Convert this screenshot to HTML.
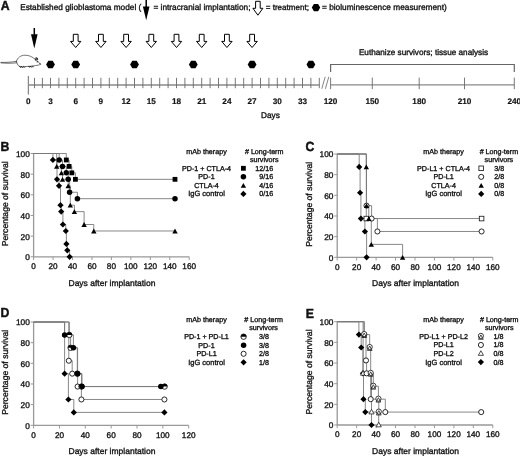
<!DOCTYPE html>
<html><head><meta charset="utf-8"><title>Figure</title>
<style>html,body{margin:0;padding:0;background:#fff;}svg{display:block;}
text{font-family:"Liberation Sans", Arial, Helvetica, sans-serif;fill:#111;stroke:#111;stroke-width:0.33px;text-rendering:geometricPrecision;}</style></head>
<body><svg width="520" height="457" viewBox="0 0 520 457">
<rect width="520" height="457" fill="#fff"/>
<text transform="translate(0.8 9.9) scale(0.93 1)" font-size="13.2" font-weight="bold" style="stroke-width:0.45px">A</text>
<text x="20.2" y="9.9" font-size="8.25">Established glioblastoma model (</text>
<path d="M146.2 0 V7.1" stroke="#000" stroke-width="1.5"/>
<path d="M142.9 6.6 L149.5 6.6 L146.2 20.2 Z" fill="#000"/>
<text x="153.4" y="9.9" font-size="8.3">= intracranial implantation;</text>
<path d="M255.6 1.3 H260.2 V8.3 H262.9 L257.9 15.2 L252.9 8.3 H255.6 Z" fill="#fff" stroke="#000" stroke-width="1.0" stroke-linejoin="miter"/>
<text x="265.7" y="9.9" font-size="8.1">= treatment;</text>
<path d="M311.8 7.6 L313.9 3.9 L318.1 3.9 L320.2 7.6 L318.1 11.3 L313.9 11.3 Z" fill="#000"/>
<text x="322" y="9.9" font-size="8.3">= bioluminescence measurement)</text>
<path d="M28.4 85 H319.3" stroke="#8a8a8a" stroke-width="1.3"/>
<path d="M28.4 75.9 V94.6" stroke="#8a8a8a" stroke-width="1.3"/>
<path d="M34.5 77.8 V88.2" stroke="#6a6a6a" stroke-width="0.9"/>
<path d="M42.4 77.8 V88.2" stroke="#6a6a6a" stroke-width="0.9"/>
<path d="M50.5 77.8 V88.2" stroke="#6a6a6a" stroke-width="0.9"/>
<path d="M58.9 77.8 V88.2" stroke="#6a6a6a" stroke-width="0.9"/>
<path d="M67.3 77.8 V88.2" stroke="#6a6a6a" stroke-width="0.9"/>
<path d="M75.7 77.8 V88.2" stroke="#6a6a6a" stroke-width="0.9"/>
<path d="M84.1 77.8 V88.2" stroke="#6a6a6a" stroke-width="0.9"/>
<path d="M92.5 77.8 V88.2" stroke="#6a6a6a" stroke-width="0.9"/>
<path d="M100.9 77.8 V88.2" stroke="#6a6a6a" stroke-width="0.9"/>
<path d="M109.3 77.8 V88.2" stroke="#6a6a6a" stroke-width="0.9"/>
<path d="M117.7 77.8 V88.2" stroke="#6a6a6a" stroke-width="0.9"/>
<path d="M126.1 77.8 V88.2" stroke="#6a6a6a" stroke-width="0.9"/>
<path d="M134.5 77.8 V88.2" stroke="#6a6a6a" stroke-width="0.9"/>
<path d="M142.9 77.8 V88.2" stroke="#6a6a6a" stroke-width="0.9"/>
<path d="M151.3 77.8 V88.2" stroke="#6a6a6a" stroke-width="0.9"/>
<path d="M159.7 77.8 V88.2" stroke="#6a6a6a" stroke-width="0.9"/>
<path d="M168.1 77.8 V88.2" stroke="#6a6a6a" stroke-width="0.9"/>
<path d="M176.5 77.8 V88.2" stroke="#6a6a6a" stroke-width="0.9"/>
<path d="M184.9 77.8 V88.2" stroke="#6a6a6a" stroke-width="0.9"/>
<path d="M193.3 77.8 V88.2" stroke="#6a6a6a" stroke-width="0.9"/>
<path d="M201.7 77.8 V88.2" stroke="#6a6a6a" stroke-width="0.9"/>
<path d="M210.1 77.8 V88.2" stroke="#6a6a6a" stroke-width="0.9"/>
<path d="M218.5 77.8 V88.2" stroke="#6a6a6a" stroke-width="0.9"/>
<path d="M226.9 77.8 V88.2" stroke="#6a6a6a" stroke-width="0.9"/>
<path d="M235.3 77.8 V88.2" stroke="#6a6a6a" stroke-width="0.9"/>
<path d="M243.7 77.8 V88.2" stroke="#6a6a6a" stroke-width="0.9"/>
<path d="M252.1 77.8 V88.2" stroke="#6a6a6a" stroke-width="0.9"/>
<path d="M260.5 77.8 V88.2" stroke="#6a6a6a" stroke-width="0.9"/>
<path d="M268.9 77.8 V88.2" stroke="#6a6a6a" stroke-width="0.9"/>
<path d="M277.3 77.8 V88.2" stroke="#6a6a6a" stroke-width="0.9"/>
<path d="M285.7 77.8 V88.2" stroke="#6a6a6a" stroke-width="0.9"/>
<path d="M294.1 77.8 V88.2" stroke="#6a6a6a" stroke-width="0.9"/>
<path d="M302.5 77.8 V88.2" stroke="#6a6a6a" stroke-width="0.9"/>
<path d="M310.9 77.8 V88.2" stroke="#6a6a6a" stroke-width="0.9"/>
<path d="M319.3 77.8 V88.2" stroke="#6a6a6a" stroke-width="0.9"/>
<text x="28.4" y="104.3" font-size="8.2" font-weight="bold" style="stroke-width:0.15px" text-anchor="middle">0</text>
<text x="50.5" y="104.3" font-size="8.2" font-weight="bold" style="stroke-width:0.15px" text-anchor="middle">3</text>
<text x="75.7" y="104.3" font-size="8.2" font-weight="bold" style="stroke-width:0.15px" text-anchor="middle">6</text>
<text x="100.9" y="104.3" font-size="8.2" font-weight="bold" style="stroke-width:0.15px" text-anchor="middle">9</text>
<text x="126.1" y="104.3" font-size="8.2" font-weight="bold" style="stroke-width:0.15px" text-anchor="middle">12</text>
<text x="151.3" y="104.3" font-size="8.2" font-weight="bold" style="stroke-width:0.15px" text-anchor="middle">15</text>
<text x="176.5" y="104.3" font-size="8.2" font-weight="bold" style="stroke-width:0.15px" text-anchor="middle">18</text>
<text x="201.7" y="104.3" font-size="8.2" font-weight="bold" style="stroke-width:0.15px" text-anchor="middle">21</text>
<text x="226.9" y="104.3" font-size="8.2" font-weight="bold" style="stroke-width:0.15px" text-anchor="middle">24</text>
<text x="252.1" y="104.3" font-size="8.2" font-weight="bold" style="stroke-width:0.15px" text-anchor="middle">27</text>
<text x="277.3" y="104.3" font-size="8.2" font-weight="bold" style="stroke-width:0.15px" text-anchor="middle">30</text>
<text x="302.5" y="104.3" font-size="8.2" font-weight="bold" style="stroke-width:0.15px" text-anchor="middle">33</text>
<path d="M321.8 88.8 L325.2 76.8 M325.4 88.8 L328.8 76.8" stroke="#777" stroke-width="0.9"/>
<path d="M330.6 84.9 H514.3" stroke="#8a8a8a" stroke-width="1.3"/>
<path d="M330.6 77.6 V89.2" stroke="#6a6a6a" stroke-width="0.9"/>
<text x="330.6" y="104.3" font-size="8.2" font-weight="bold" style="stroke-width:0.15px" text-anchor="middle">120</text>
<path d="M372.3 77.6 V89.2" stroke="#6a6a6a" stroke-width="0.9"/>
<text x="372.3" y="104.3" font-size="8.2" font-weight="bold" style="stroke-width:0.15px" text-anchor="middle">150</text>
<path d="M419.2 77.6 V89.2" stroke="#6a6a6a" stroke-width="0.9"/>
<text x="419.2" y="104.3" font-size="8.2" font-weight="bold" style="stroke-width:0.15px" text-anchor="middle">180</text>
<path d="M464.5 77.6 V89.2" stroke="#6a6a6a" stroke-width="0.9"/>
<text x="464.5" y="104.3" font-size="8.2" font-weight="bold" style="stroke-width:0.15px" text-anchor="middle">210</text>
<path d="M514.3 77.6 V89.2" stroke="#6a6a6a" stroke-width="0.9"/>
<text x="514.3" y="104.3" font-size="8.2" font-weight="bold" style="stroke-width:0.15px" text-anchor="middle">240</text>
<path d="M330.6 72.0 V64.5 H514.3 V72.0" fill="none" stroke="#666" stroke-width="1.2"/>
<text x="358.9" y="54.8" font-size="8.2">Euthanize survivors; tissue analysis</text>
<text x="260.9" y="117.7" font-size="8.3">Days</text>
<path d="M34.3 28 V34.8" stroke="#000" stroke-width="1.5"/>
<path d="M31 34.3 L37.6 34.3 L34.3 48.4 Z" fill="#000"/>
<path d="M73.3 34.3 H78.1 V41.4 H80.9 L75.7 47.5 L70.5 41.4 H73.3 Z" fill="#fff" stroke="#000" stroke-width="1.0" stroke-linejoin="miter"/>
<path d="M98.5 34.3 H103.3 V41.4 H106.1 L100.9 47.5 L95.7 41.4 H98.5 Z" fill="#fff" stroke="#000" stroke-width="1.0" stroke-linejoin="miter"/>
<path d="M123.7 34.3 H128.5 V41.4 H131.3 L126.1 47.5 L120.9 41.4 H123.7 Z" fill="#fff" stroke="#000" stroke-width="1.0" stroke-linejoin="miter"/>
<path d="M148.9 34.3 H153.7 V41.4 H156.5 L151.3 47.5 L146.1 41.4 H148.9 Z" fill="#fff" stroke="#000" stroke-width="1.0" stroke-linejoin="miter"/>
<path d="M174.1 34.3 H178.9 V41.4 H181.7 L176.5 47.5 L171.3 41.4 H174.1 Z" fill="#fff" stroke="#000" stroke-width="1.0" stroke-linejoin="miter"/>
<path d="M199.3 34.3 H204.1 V41.4 H206.9 L201.7 47.5 L196.5 41.4 H199.3 Z" fill="#fff" stroke="#000" stroke-width="1.0" stroke-linejoin="miter"/>
<path d="M224.5 34.3 H229.3 V41.4 H232.1 L226.9 47.5 L221.7 41.4 H224.5 Z" fill="#fff" stroke="#000" stroke-width="1.0" stroke-linejoin="miter"/>
<path d="M249.7 34.3 H254.5 V41.4 H257.3 L252.1 47.5 L246.9 41.4 H249.7 Z" fill="#fff" stroke="#000" stroke-width="1.0" stroke-linejoin="miter"/>
<path d="M46.1 64.5 L48.3 60.8 L52.7 60.8 L54.9 64.5 L52.7 68.2 L48.3 68.2 Z" fill="#000"/>
<path d="M71.3 64.5 L73.5 60.8 L77.9 60.8 L80.1 64.5 L77.9 68.2 L73.5 68.2 Z" fill="#000"/>
<path d="M130.1 64.5 L132.3 60.8 L136.7 60.8 L138.9 64.5 L136.7 68.2 L132.3 68.2 Z" fill="#000"/>
<path d="M188.9 64.5 L191.1 60.8 L195.5 60.8 L197.7 64.5 L195.5 68.2 L191.1 68.2 Z" fill="#000"/>
<path d="M247.7 64.5 L249.9 60.8 L254.3 60.8 L256.5 64.5 L254.3 68.2 L249.9 68.2 Z" fill="#000"/>
<path d="M306.5 64.5 L308.7 60.8 L313.1 60.8 L315.3 64.5 L313.1 68.2 L308.7 68.2 Z" fill="#000"/>
<g fill="none" stroke="#2a2a2a" stroke-width="0.65" stroke-linecap="round" stroke-linejoin="round"><path d="M0.9 62.4 C5 62.6 11 62.2 16.4 61.4"/><path d="M1.0 62.9 C6 63.4 12 63.4 16.8 62.8"/><path d="M16.4 61.2 C17.5 57.6 21 55.2 25 55.2 C29 55.2 32.6 56.8 35.2 59.4"/><path d="M35.2 59.4 C37.2 60.6 39.2 62.4 40.6 64.2 C39.4 65 37.5 65.3 35.4 65.6 C32 66.2 28 66.4 25.5 66.6"/><path d="M16.4 61.2 C16.8 63.2 17.6 65 19.2 66.4 C21.5 67.4 23.5 67.0 25.5 66.6"/><path d="M35.0 58.2 C35.6 57.2 37.2 57.4 37.6 58.6 C37.4 59.8 36.2 60.2 35.4 59.6"/></g>
<circle cx="37.3" cy="61.8" r="0.7" fill="#222"/>
<path d="M19.4 65.8 l1.2 1.6 l1 -1.2 l1 1.3 l1.1 -1.1 l1 0.9 M28.4 65.9 l1.2 1.4 l1 -1.2 l1.1 1.2 l1 -1.0 l0.8 0.6 M39.6 63.6 l1 0.6" fill="none" stroke="#1a1a1a" stroke-width="1.0"/>
<path d="M35.6 60.6 l0.5 -2.6 l1.4 0.4 l0.2 1.6" fill="none" stroke="#1a1a1a" stroke-width="0.9"/>
<text transform="translate(0.6 150.8) scale(0.93 1)" font-size="13.2" font-weight="bold" style="stroke-width:0.45px">B</text>
<path d="M33.6 153.5 V256.8 H189.2" fill="none" stroke="#999999" stroke-width="1.3"/>
<path d="M30.6 256.8 H33.6" stroke="#999999" stroke-width="1"/>
<text x="29.8" y="260.2" font-size="8.3" text-anchor="end">0</text>
<path d="M30.6 236.14 H33.6" stroke="#999999" stroke-width="1"/>
<text x="29.8" y="239.54" font-size="8.3" text-anchor="end">20</text>
<path d="M30.6 215.48 H33.6" stroke="#999999" stroke-width="1"/>
<text x="29.8" y="218.88" font-size="8.3" text-anchor="end">40</text>
<path d="M30.6 194.82 H33.6" stroke="#999999" stroke-width="1"/>
<text x="29.8" y="198.22" font-size="8.3" text-anchor="end">60</text>
<path d="M30.6 174.16 H33.6" stroke="#999999" stroke-width="1"/>
<text x="29.8" y="177.56" font-size="8.3" text-anchor="end">80</text>
<path d="M30.6 153.5 H33.6" stroke="#999999" stroke-width="1"/>
<text x="29.8" y="156.9" font-size="8.3" text-anchor="end">100</text>
<path d="M33.6 256.8 V260" stroke="#999999" stroke-width="1"/>
<text x="33.6" y="269.1" font-size="8.2" text-anchor="middle">0</text>
<path d="M53.05 256.8 V260" stroke="#999999" stroke-width="1"/>
<text x="53.05" y="269.1" font-size="8.2" text-anchor="middle">20</text>
<path d="M72.5 256.8 V260" stroke="#999999" stroke-width="1"/>
<text x="72.5" y="269.1" font-size="8.2" text-anchor="middle">40</text>
<path d="M91.95 256.8 V260" stroke="#999999" stroke-width="1"/>
<text x="91.95" y="269.1" font-size="8.2" text-anchor="middle">60</text>
<path d="M111.4 256.8 V260" stroke="#999999" stroke-width="1"/>
<text x="111.4" y="269.1" font-size="8.2" text-anchor="middle">80</text>
<path d="M130.85 256.8 V260" stroke="#999999" stroke-width="1"/>
<text x="130.85" y="269.1" font-size="8.2" text-anchor="middle">100</text>
<path d="M150.3 256.8 V260" stroke="#999999" stroke-width="1"/>
<text x="150.3" y="269.1" font-size="8.2" text-anchor="middle">120</text>
<path d="M169.75 256.8 V260" stroke="#999999" stroke-width="1"/>
<text x="169.75" y="269.1" font-size="8.2" text-anchor="middle">140</text>
<path d="M189.2 256.8 V260" stroke="#999999" stroke-width="1"/>
<text x="189.2" y="269.1" font-size="8.2" text-anchor="middle">160</text>
<text x="68.5" y="285.8" font-size="8.5">Days after implantation</text>
<text transform="translate(8.3 203.75) rotate(-90)" font-size="8.6" text-anchor="middle">Percentage of survival</text>
<path d="M33.6 153.5 H66.3 V159.96 H69.1 V166.41 H71.8 V172.87 H75.4 V179.33 H175" fill="none" stroke="#7a7a7a" stroke-width="0.9"/>
<path d="M33.6 153.5 H59.2 V159.96 H62.5 V166.41 H66.3 V172.87 H68.2 V179.33 H69.6 V192.24 H77.4 V198.69 H175" fill="none" stroke="#7a7a7a" stroke-width="0.9"/>
<path d="M33.6 153.5 H56.7 V166.41 H61.4 V172.87 H62.5 V179.33 H68.2 V185.78 H70.3 V205.15 H74.4 V211.61 H84.1 V224.52 H93.8 V230.98 H175" fill="none" stroke="#7a7a7a" stroke-width="0.9"/>
<path d="M33.6 153.5 H52.9 V159.96 H57 V179.33 H59 V185.78 H60.5 V205.15 H61.2 V211.61 H62.9 V224.52 H65.8 V230.98 H66.4 V243.89 H67.3 V250.34 H69.6 V256.8" fill="none" stroke="#7a7a7a" stroke-width="0.9"/>
<path d="M52.9 156.86 L56 159.96 L52.9 163.06 L49.8 159.96 Z" fill="#000"/>
<path d="M57 176.23 L60.1 179.33 L57 182.43 L53.9 179.33 Z" fill="#000"/>
<path d="M59 182.68 L62.1 185.78 L59 188.88 L55.9 185.78 Z" fill="#000"/>
<path d="M60.5 202.05 L63.6 205.15 L60.5 208.25 L57.4 205.15 Z" fill="#000"/>
<path d="M61.2 208.51 L64.3 211.61 L61.2 214.71 L58.1 211.61 Z" fill="#000"/>
<path d="M62.9 221.42 L66 224.52 L62.9 227.62 L59.8 224.52 Z" fill="#000"/>
<path d="M65.8 227.88 L68.9 230.98 L65.8 234.08 L62.7 230.98 Z" fill="#000"/>
<path d="M66.4 240.79 L69.5 243.89 L66.4 246.99 L63.3 243.89 Z" fill="#000"/>
<path d="M67.3 247.24 L70.4 250.34 L67.3 253.44 L64.2 250.34 Z" fill="#000"/>
<path d="M69.6 253.7 L72.7 256.8 L69.6 259.9 L66.5 256.8 Z" fill="#000"/>
<path d="M56.7 164.01 L59.4 168.81 L54 168.81 Z" fill="#000"/>
<path d="M61.4 170.47 L64.1 175.27 L58.7 175.27 Z" fill="#000"/>
<path d="M62.5 176.93 L65.2 181.73 L59.8 181.73 Z" fill="#000"/>
<path d="M68.2 183.38 L70.9 188.18 L65.5 188.18 Z" fill="#000"/>
<path d="M70.3 202.75 L73 207.55 L67.6 207.55 Z" fill="#000"/>
<path d="M74.4 209.21 L77.1 214.01 L71.7 214.01 Z" fill="#000"/>
<path d="M84.1 222.12 L86.8 226.92 L81.4 226.92 Z" fill="#000"/>
<path d="M93.8 228.58 L96.5 233.38 L91.1 233.38 Z" fill="#000"/>
<path d="M175 228.58 L177.7 233.38 L172.3 233.38 Z" fill="#000"/>
<circle cx="59.2" cy="159.96" r="2.75" fill="#000"/>
<circle cx="62.5" cy="166.41" r="2.75" fill="#000"/>
<circle cx="66.3" cy="172.87" r="2.75" fill="#000"/>
<circle cx="68.2" cy="179.33" r="2.75" fill="#000"/>
<circle cx="69.6" cy="192.24" r="2.75" fill="#000"/>
<circle cx="77.4" cy="198.69" r="2.75" fill="#000"/>
<circle cx="175" cy="198.69" r="2.75" fill="#000"/>
<rect x="63.9" y="157.56" width="4.8" height="4.8" fill="#000"/>
<rect x="66.7" y="164.01" width="4.8" height="4.8" fill="#000"/>
<rect x="69.4" y="170.47" width="4.8" height="4.8" fill="#000"/>
<rect x="73" y="176.93" width="4.8" height="4.8" fill="#000"/>
<rect x="172.6" y="176.93" width="4.8" height="4.8" fill="#000"/>
<text x="206.5" y="153.5" font-size="7.15" text-anchor="middle">mAb therapy</text>
<text x="264.2" y="153.5" font-size="7.15" text-anchor="middle"># Long-term</text>
<text x="264.2" y="161.6" font-size="7.15" text-anchor="middle">survivors</text>
<text x="206.5" y="170.8" font-size="7.15" text-anchor="middle">PD-1 + CTLA-4</text>
<rect x="241" y="165.9" width="4.8" height="4.8" fill="#000"/>
<text x="273.2" y="170.8" font-size="7.15" text-anchor="end">12/16</text>
<text x="206.5" y="179.35" font-size="7.15" text-anchor="middle">PD-1</text>
<circle cx="243.4" cy="176.85" r="2.75" fill="#000"/>
<text x="273.2" y="179.35" font-size="7.15" text-anchor="end">9/16</text>
<text x="206.5" y="187.9" font-size="7.15" text-anchor="middle">CTLA-4</text>
<path d="M243.4 183 L246.1 187.8 L240.7 187.8 Z" fill="#000"/>
<text x="273.2" y="187.9" font-size="7.15" text-anchor="end">4/16</text>
<text x="206.5" y="196.45" font-size="7.5" text-anchor="middle">IgG control</text>
<path d="M243.4 190.85 L246.5 193.95 L243.4 197.05 L240.3 193.95 Z" fill="#000"/>
<text x="273.2" y="196.45" font-size="7.15" text-anchor="end">0/16</text>
<text transform="translate(305.6 150.6) scale(0.93 1)" font-size="13.2" font-weight="bold" style="stroke-width:0.45px">C</text>
<path d="M337.2 154 V257.3 H492.8" fill="none" stroke="#999999" stroke-width="1.3"/>
<path d="M334.2 257.3 H337.2" stroke="#999999" stroke-width="1"/>
<text x="333.4" y="260.7" font-size="8.3" text-anchor="end">0</text>
<path d="M334.2 236.64 H337.2" stroke="#999999" stroke-width="1"/>
<text x="333.4" y="240.04" font-size="8.3" text-anchor="end">20</text>
<path d="M334.2 215.98 H337.2" stroke="#999999" stroke-width="1"/>
<text x="333.4" y="219.38" font-size="8.3" text-anchor="end">40</text>
<path d="M334.2 195.32 H337.2" stroke="#999999" stroke-width="1"/>
<text x="333.4" y="198.72" font-size="8.3" text-anchor="end">60</text>
<path d="M334.2 174.66 H337.2" stroke="#999999" stroke-width="1"/>
<text x="333.4" y="178.06" font-size="8.3" text-anchor="end">80</text>
<path d="M334.2 154 H337.2" stroke="#999999" stroke-width="1"/>
<text x="333.4" y="157.4" font-size="8.3" text-anchor="end">100</text>
<path d="M337.2 257.3 V260.5" stroke="#999999" stroke-width="1"/>
<text x="337.2" y="269.6" font-size="8.2" text-anchor="middle">0</text>
<path d="M356.65 257.3 V260.5" stroke="#999999" stroke-width="1"/>
<text x="356.65" y="269.6" font-size="8.2" text-anchor="middle">20</text>
<path d="M376.1 257.3 V260.5" stroke="#999999" stroke-width="1"/>
<text x="376.1" y="269.6" font-size="8.2" text-anchor="middle">40</text>
<path d="M395.55 257.3 V260.5" stroke="#999999" stroke-width="1"/>
<text x="395.55" y="269.6" font-size="8.2" text-anchor="middle">60</text>
<path d="M415 257.3 V260.5" stroke="#999999" stroke-width="1"/>
<text x="415" y="269.6" font-size="8.2" text-anchor="middle">80</text>
<path d="M434.45 257.3 V260.5" stroke="#999999" stroke-width="1"/>
<text x="434.45" y="269.6" font-size="8.2" text-anchor="middle">100</text>
<path d="M453.9 257.3 V260.5" stroke="#999999" stroke-width="1"/>
<text x="453.9" y="269.6" font-size="8.2" text-anchor="middle">120</text>
<path d="M473.35 257.3 V260.5" stroke="#999999" stroke-width="1"/>
<text x="473.35" y="269.6" font-size="8.2" text-anchor="middle">140</text>
<path d="M492.8 257.3 V260.5" stroke="#999999" stroke-width="1"/>
<text x="492.8" y="269.6" font-size="8.2" text-anchor="middle">160</text>
<text x="372.1" y="285.8" font-size="8.5">Days after implantation</text>
<text transform="translate(311.9 204.25) rotate(-90)" font-size="8.6" text-anchor="middle">Percentage of survival</text>
<path d="M337.2 154 H366.3 V218.56 H481.6" fill="none" stroke="#7a7a7a" stroke-width="0.9"/>
<path d="M337.2 154 H366.5 V205.65 H371.6 V218.56 H377.4 V231.48 H481.6" fill="none" stroke="#7a7a7a" stroke-width="0.9"/>
<path d="M337.2 154 H366.3 V166.91 H366.5 V205.65 H368.8 V218.56 H371.3 V244.39 H402.6 V257.3" fill="none" stroke="#7a7a7a" stroke-width="0.9"/>
<path d="M337.2 154 H359.2 V166.91 H360.1 V192.74 H360.9 V218.56 H364.9 V231.48 H366.6 V257.3" fill="none" stroke="#7a7a7a" stroke-width="0.9"/>
<path d="M359.2 163.81 L362.3 166.91 L359.2 170.01 L356.1 166.91 Z" fill="#000"/>
<path d="M360.1 189.64 L363.2 192.74 L360.1 195.84 L357 192.74 Z" fill="#000"/>
<path d="M360.9 215.46 L364 218.56 L360.9 221.66 L357.8 218.56 Z" fill="#000"/>
<path d="M364.9 228.38 L368 231.48 L364.9 234.58 L361.8 231.48 Z" fill="#000"/>
<path d="M366.6 254.2 L369.7 257.3 L366.6 260.4 L363.5 257.3 Z" fill="#000"/>
<rect x="364" y="216.26" width="4.6" height="4.6" fill="#fff" stroke="#111" stroke-width="0.8"/>
<rect x="479.3" y="216.26" width="4.6" height="4.6" fill="#fff" stroke="#111" stroke-width="0.8"/>
<circle cx="366.5" cy="205.65" r="2.55" fill="#fff" stroke="#111" stroke-width="0.9"/>
<circle cx="371.6" cy="218.56" r="2.55" fill="#fff" stroke="#111" stroke-width="0.9"/>
<circle cx="377.4" cy="231.48" r="2.55" fill="#fff" stroke="#111" stroke-width="0.9"/>
<circle cx="481.6" cy="231.48" r="2.55" fill="#fff" stroke="#111" stroke-width="0.9"/>
<path d="M366.3 164.51 L369 169.31 L363.6 169.31 Z" fill="#000"/>
<path d="M366.5 203.25 L369.2 208.05 L363.8 208.05 Z" fill="#000"/>
<path d="M368.8 216.16 L371.5 220.96 L366.1 220.96 Z" fill="#000"/>
<path d="M371.3 241.99 L374 246.79 L368.6 246.79 Z" fill="#000"/>
<path d="M402.6 254.9 L405.3 259.7 L399.9 259.7 Z" fill="#000"/>
<text x="443.6" y="153.5" font-size="7.15" text-anchor="middle">mAb therapy</text>
<text x="498.9" y="153.5" font-size="7.15" text-anchor="middle"># Long-term</text>
<text x="498.9" y="161.6" font-size="7.15" text-anchor="middle">survivors</text>
<text x="443.6" y="170.8" font-size="7.15" text-anchor="middle">PD-L1 + CTLA-4</text>
<rect x="478.9" y="166" width="4.6" height="4.6" fill="#fff" stroke="#111" stroke-width="0.8"/>
<text x="504.2" y="170.8" font-size="7.15" text-anchor="end">3/8</text>
<text x="443.6" y="179.35" font-size="7.15" text-anchor="middle">PD-L1</text>
<circle cx="481.2" cy="176.85" r="2.55" fill="#fff" stroke="#111" stroke-width="0.9"/>
<text x="504.2" y="179.35" font-size="7.15" text-anchor="end">2/8</text>
<text x="443.6" y="187.9" font-size="7.15" text-anchor="middle">CTLA-4</text>
<path d="M481.2 183 L483.9 187.8 L478.5 187.8 Z" fill="#000"/>
<text x="504.2" y="187.9" font-size="7.15" text-anchor="end">0/8</text>
<text x="443.6" y="196.45" font-size="7.5" text-anchor="middle">IgG control</text>
<path d="M481.2 190.85 L484.3 193.95 L481.2 197.05 L478.1 193.95 Z" fill="#000"/>
<text x="504.2" y="196.45" font-size="7.15" text-anchor="end">0/8</text>
<text transform="translate(0.6 317.2) scale(0.93 1)" font-size="13.2" font-weight="bold" style="stroke-width:0.45px">D</text>
<path d="M33.6 322 V425.3 H188.7" fill="none" stroke="#999999" stroke-width="1.3"/>
<path d="M30.6 425.3 H33.6" stroke="#999999" stroke-width="1"/>
<text x="29.8" y="428.7" font-size="8.3" text-anchor="end">0</text>
<path d="M30.6 404.64 H33.6" stroke="#999999" stroke-width="1"/>
<text x="29.8" y="408.04" font-size="8.3" text-anchor="end">20</text>
<path d="M30.6 383.98 H33.6" stroke="#999999" stroke-width="1"/>
<text x="29.8" y="387.38" font-size="8.3" text-anchor="end">40</text>
<path d="M30.6 363.32 H33.6" stroke="#999999" stroke-width="1"/>
<text x="29.8" y="366.72" font-size="8.3" text-anchor="end">60</text>
<path d="M30.6 342.66 H33.6" stroke="#999999" stroke-width="1"/>
<text x="29.8" y="346.06" font-size="8.3" text-anchor="end">80</text>
<path d="M30.6 322 H33.6" stroke="#999999" stroke-width="1"/>
<text x="29.8" y="325.4" font-size="8.3" text-anchor="end">100</text>
<path d="M33.6 425.3 V428.5" stroke="#999999" stroke-width="1"/>
<text x="33.6" y="437.6" font-size="8.2" text-anchor="middle">0</text>
<path d="M59.45 425.3 V428.5" stroke="#999999" stroke-width="1"/>
<text x="59.45" y="437.6" font-size="8.2" text-anchor="middle">20</text>
<path d="M85.3 425.3 V428.5" stroke="#999999" stroke-width="1"/>
<text x="85.3" y="437.6" font-size="8.2" text-anchor="middle">40</text>
<path d="M111.15 425.3 V428.5" stroke="#999999" stroke-width="1"/>
<text x="111.15" y="437.6" font-size="8.2" text-anchor="middle">60</text>
<path d="M137 425.3 V428.5" stroke="#999999" stroke-width="1"/>
<text x="137" y="437.6" font-size="8.2" text-anchor="middle">80</text>
<path d="M162.85 425.3 V428.5" stroke="#999999" stroke-width="1"/>
<text x="162.85" y="437.6" font-size="8.2" text-anchor="middle">100</text>
<path d="M188.7 425.3 V428.5" stroke="#999999" stroke-width="1"/>
<text x="188.7" y="437.6" font-size="8.2" text-anchor="middle">120</text>
<text x="68.5" y="454.4" font-size="8.5">Days after implantation</text>
<text transform="translate(8.3 372.25) rotate(-90)" font-size="8.6" text-anchor="middle">Percentage of survival</text>
<path d="M33.6 322 H64.6 V334.91 H73.4 V347.83 H77.6 V373.65 H82 V386.56 H160.8" fill="none" stroke="#7a7a7a" stroke-width="0.9"/>
<path d="M33.6 322 H69.3 V334.91 H70.6 V347.83 H77.3 V373.65 H81.5 V386.56 H164.6" fill="none" stroke="#7a7a7a" stroke-width="0.9"/>
<path d="M33.6 322 H68.8 V360.74 H72.2 V373.65 H77.6 V386.56 H81.4 V399.48 H164.4" fill="none" stroke="#7a7a7a" stroke-width="0.9"/>
<path d="M33.6 322 H64.6 V373.65 H68.4 V399.48 H73.8 V412.39 H164.4" fill="none" stroke="#7a7a7a" stroke-width="0.9"/>
<path d="M64.6 370.55 L67.7 373.65 L64.6 376.75 L61.5 373.65 Z" fill="#000"/>
<path d="M68.4 396.38 L71.5 399.48 L68.4 402.58 L65.3 399.48 Z" fill="#000"/>
<path d="M73.8 409.29 L76.9 412.39 L73.8 415.49 L70.7 412.39 Z" fill="#000"/>
<path d="M164.4 409.29 L167.5 412.39 L164.4 415.49 L161.3 412.39 Z" fill="#000"/>
<circle cx="68.8" cy="360.74" r="2.55" fill="#fff" stroke="#111" stroke-width="0.9"/>
<circle cx="72.2" cy="373.65" r="2.55" fill="#fff" stroke="#111" stroke-width="0.9"/>
<circle cx="77.6" cy="386.56" r="2.55" fill="#fff" stroke="#111" stroke-width="0.9"/>
<circle cx="81.4" cy="399.48" r="2.55" fill="#fff" stroke="#111" stroke-width="0.9"/>
<circle cx="164.4" cy="399.48" r="2.55" fill="#fff" stroke="#111" stroke-width="0.9"/>
<circle cx="69.3" cy="334.91" r="2.7" fill="#fff" stroke="#111" stroke-width="0.9"/>
<path d="M66.6 334.91 A2.7 2.7 0 0 1 72 334.91 Z" fill="#000"/>
<circle cx="70.6" cy="347.83" r="2.7" fill="#fff" stroke="#111" stroke-width="0.9"/>
<path d="M67.9 347.83 A2.7 2.7 0 0 1 73.3 347.83 Z" fill="#000"/>
<circle cx="77.3" cy="373.65" r="2.7" fill="#fff" stroke="#111" stroke-width="0.9"/>
<path d="M74.6 373.65 A2.7 2.7 0 0 1 80 373.65 Z" fill="#000"/>
<circle cx="81.5" cy="386.56" r="2.7" fill="#fff" stroke="#111" stroke-width="0.9"/>
<path d="M78.8 386.56 A2.7 2.7 0 0 1 84.2 386.56 Z" fill="#000"/>
<circle cx="164.6" cy="386.56" r="2.7" fill="#fff" stroke="#111" stroke-width="0.9"/>
<path d="M161.9 386.56 A2.7 2.7 0 0 1 167.3 386.56 Z" fill="#000"/>
<circle cx="64.6" cy="334.91" r="2.75" fill="#000"/>
<circle cx="73.4" cy="347.83" r="2.75" fill="#000"/>
<circle cx="77.6" cy="373.65" r="2.75" fill="#000"/>
<circle cx="82" cy="386.56" r="2.75" fill="#000"/>
<circle cx="160.8" cy="386.56" r="2.75" fill="#000"/>
<text x="206.5" y="321.9" font-size="7.15" text-anchor="middle">mAb therapy</text>
<text x="263.6" y="321.9" font-size="7.15" text-anchor="middle"># Long-term</text>
<text x="263.6" y="330" font-size="7.15" text-anchor="middle">survivors</text>
<text x="206.5" y="339.2" font-size="7.15" text-anchor="middle">PD-1 + PD-L1</text>
<circle cx="243.6" cy="336.7" r="2.7" fill="#fff" stroke="#111" stroke-width="0.9"/>
<path d="M240.9 336.7 A2.7 2.7 0 0 1 246.3 336.7 Z" fill="#000"/>
<text x="268.9" y="339.2" font-size="7.15" text-anchor="end">3/8</text>
<text x="206.5" y="347.75" font-size="7.15" text-anchor="middle">PD-1</text>
<circle cx="243.6" cy="345.25" r="2.75" fill="#000"/>
<text x="268.9" y="347.75" font-size="7.15" text-anchor="end">3/8</text>
<text x="206.5" y="356.3" font-size="7.15" text-anchor="middle">PD-L1</text>
<circle cx="243.6" cy="353.8" r="2.55" fill="#fff" stroke="#111" stroke-width="0.9"/>
<text x="268.9" y="356.3" font-size="7.15" text-anchor="end">2/8</text>
<text x="206.5" y="364.85" font-size="7.5" text-anchor="middle">IgG control</text>
<path d="M243.6 359.25 L246.7 362.35 L243.6 365.45 L240.5 362.35 Z" fill="#000"/>
<text x="268.9" y="364.85" font-size="7.15" text-anchor="end">1/8</text>
<text transform="translate(305.8 317.6) scale(0.93 1)" font-size="13.2" font-weight="bold" style="stroke-width:0.45px">E</text>
<path d="M337.2 321.7 V425 H492.8" fill="none" stroke="#999999" stroke-width="1.3"/>
<path d="M334.2 425 H337.2" stroke="#999999" stroke-width="1"/>
<text x="333.4" y="428.4" font-size="8.3" text-anchor="end">0</text>
<path d="M334.2 404.34 H337.2" stroke="#999999" stroke-width="1"/>
<text x="333.4" y="407.74" font-size="8.3" text-anchor="end">20</text>
<path d="M334.2 383.68 H337.2" stroke="#999999" stroke-width="1"/>
<text x="333.4" y="387.08" font-size="8.3" text-anchor="end">40</text>
<path d="M334.2 363.02 H337.2" stroke="#999999" stroke-width="1"/>
<text x="333.4" y="366.42" font-size="8.3" text-anchor="end">60</text>
<path d="M334.2 342.36 H337.2" stroke="#999999" stroke-width="1"/>
<text x="333.4" y="345.76" font-size="8.3" text-anchor="end">80</text>
<path d="M334.2 321.7 H337.2" stroke="#999999" stroke-width="1"/>
<text x="333.4" y="325.1" font-size="8.3" text-anchor="end">100</text>
<path d="M337.2 425 V428.2" stroke="#999999" stroke-width="1"/>
<text x="337.2" y="437.3" font-size="8.2" text-anchor="middle">0</text>
<path d="M356.65 425 V428.2" stroke="#999999" stroke-width="1"/>
<text x="356.65" y="437.3" font-size="8.2" text-anchor="middle">20</text>
<path d="M376.1 425 V428.2" stroke="#999999" stroke-width="1"/>
<text x="376.1" y="437.3" font-size="8.2" text-anchor="middle">40</text>
<path d="M395.55 425 V428.2" stroke="#999999" stroke-width="1"/>
<text x="395.55" y="437.3" font-size="8.2" text-anchor="middle">60</text>
<path d="M415 425 V428.2" stroke="#999999" stroke-width="1"/>
<text x="415" y="437.3" font-size="8.2" text-anchor="middle">80</text>
<path d="M434.45 425 V428.2" stroke="#999999" stroke-width="1"/>
<text x="434.45" y="437.3" font-size="8.2" text-anchor="middle">100</text>
<path d="M453.9 425 V428.2" stroke="#999999" stroke-width="1"/>
<text x="453.9" y="437.3" font-size="8.2" text-anchor="middle">120</text>
<path d="M473.35 425 V428.2" stroke="#999999" stroke-width="1"/>
<text x="473.35" y="437.3" font-size="8.2" text-anchor="middle">140</text>
<path d="M492.8 425 V428.2" stroke="#999999" stroke-width="1"/>
<text x="492.8" y="437.3" font-size="8.2" text-anchor="middle">160</text>
<text x="372.1" y="454.2" font-size="8.5">Days after implantation</text>
<text transform="translate(311.9 371.95) rotate(-90)" font-size="8.6" text-anchor="middle">Percentage of survival</text>
<path d="M337.2 321.7 H364.2 V334.61 H366 V360.44 H366.6 V373.35 H370.7 V399.18 H385.3 V412.09 H481.2" fill="none" stroke="#7a7a7a" stroke-width="0.9"/>
<path d="M337.2 321.7 H364.2 V334.61 H369.7 V347.52 H370.7 V373.35 H373.3 V386.26 H378.4 V399.18 H378.8 V412.09" fill="none" stroke="#7a7a7a" stroke-width="0.9"/>
<path d="M337.2 321.7 H363.1 V373.35 H371.5 V412.09 H378.7 V425" fill="none" stroke="#7a7a7a" stroke-width="0.9"/>
<path d="M337.2 321.7 H358.9 V334.61 H361.2 V347.52 H363 V373.35 H363.5 V399.18 H365.3 V412.09 H371.5 V425" fill="none" stroke="#7a7a7a" stroke-width="0.9"/>
<path d="M358.9 331.51 L362 334.61 L358.9 337.71 L355.8 334.61 Z" fill="#000"/>
<path d="M361.2 344.42 L364.3 347.52 L361.2 350.62 L358.1 347.52 Z" fill="#000"/>
<path d="M363 370.25 L366.1 373.35 L363 376.45 L359.9 373.35 Z" fill="#000"/>
<path d="M363.5 396.07 L366.6 399.18 L363.5 402.28 L360.4 399.18 Z" fill="#000"/>
<path d="M365.3 408.99 L368.4 412.09 L365.3 415.19 L362.2 412.09 Z" fill="#000"/>
<path d="M371.5 421.9 L374.6 425 L371.5 428.1 L368.4 425 Z" fill="#000"/>
<path d="M363.1 370.59 L365.7 375.19 L360.5 375.19 Z" fill="#fff" stroke="#111" stroke-width="0.75"/>
<path d="M371.5 409.33 L374.1 413.93 L368.9 413.93 Z" fill="#fff" stroke="#111" stroke-width="0.75"/>
<path d="M378.7 422.24 L381.3 426.84 L376.1 426.84 Z" fill="#fff" stroke="#111" stroke-width="0.75"/>
<circle cx="364.2" cy="334.61" r="2.55" fill="#fff" stroke="#111" stroke-width="0.9"/>
<circle cx="366" cy="360.44" r="2.55" fill="#fff" stroke="#111" stroke-width="0.9"/>
<circle cx="366.6" cy="373.35" r="2.55" fill="#fff" stroke="#111" stroke-width="0.9"/>
<circle cx="370.7" cy="399.18" r="2.55" fill="#fff" stroke="#111" stroke-width="0.9"/>
<circle cx="385.3" cy="412.09" r="2.55" fill="#fff" stroke="#111" stroke-width="0.9"/>
<circle cx="481.2" cy="412.09" r="2.55" fill="#fff" stroke="#111" stroke-width="0.9"/>
<circle cx="364.2" cy="334.11" r="2.6" fill="#fff" stroke="#111" stroke-width="0.8"/>
<path d="M364.2 333.11 L366.6 337.51 L361.8 337.51 Z" fill="none" stroke="#111" stroke-width="0.75"/>
<circle cx="369.7" cy="347.02" r="2.6" fill="#fff" stroke="#111" stroke-width="0.8"/>
<path d="M369.7 346.02 L372.1 350.42 L367.3 350.42 Z" fill="none" stroke="#111" stroke-width="0.75"/>
<circle cx="370.7" cy="372.85" r="2.6" fill="#fff" stroke="#111" stroke-width="0.8"/>
<path d="M370.7 371.85 L373.1 376.25 L368.3 376.25 Z" fill="none" stroke="#111" stroke-width="0.75"/>
<circle cx="373.3" cy="385.76" r="2.6" fill="#fff" stroke="#111" stroke-width="0.8"/>
<path d="M373.3 384.76 L375.7 389.16 L370.9 389.16 Z" fill="none" stroke="#111" stroke-width="0.75"/>
<circle cx="378.4" cy="398.68" r="2.6" fill="#fff" stroke="#111" stroke-width="0.8"/>
<path d="M378.4 397.68 L380.8 402.07 L376 402.07 Z" fill="none" stroke="#111" stroke-width="0.75"/>
<circle cx="378.8" cy="411.59" r="2.6" fill="#fff" stroke="#111" stroke-width="0.8"/>
<path d="M378.8 410.59 L381.2 414.99 L376.4 414.99 Z" fill="none" stroke="#111" stroke-width="0.75"/>
<text x="443.6" y="321.6" font-size="7.15" text-anchor="middle">mAb therapy</text>
<text x="499.2" y="321.6" font-size="7.15" text-anchor="middle"># Long-term</text>
<text x="499.2" y="329.7" font-size="7.15" text-anchor="middle">survivors</text>
<text x="443.6" y="338.9" font-size="7.15" text-anchor="middle">PD-L1 + PD-L2</text>
<circle cx="480.9" cy="335.9" r="2.6" fill="#fff" stroke="#111" stroke-width="0.8"/>
<path d="M480.9 334.9 L483.3 339.3 L478.5 339.3 Z" fill="none" stroke="#111" stroke-width="0.75"/>
<text x="503.4" y="338.9" font-size="7.15" text-anchor="end">1/8</text>
<text x="443.6" y="347.45" font-size="7.15" text-anchor="middle">PD-L1</text>
<circle cx="480.9" cy="344.95" r="2.55" fill="#fff" stroke="#111" stroke-width="0.9"/>
<text x="503.4" y="347.45" font-size="7.15" text-anchor="end">1/8</text>
<text x="443.6" y="356" font-size="7.15" text-anchor="middle">PD-L2</text>
<path d="M480.9 350.74 L483.5 355.34 L478.3 355.34 Z" fill="#fff" stroke="#111" stroke-width="0.75"/>
<text x="503.4" y="356" font-size="7.15" text-anchor="end">0/8</text>
<text x="443.6" y="364.55" font-size="7.5" text-anchor="middle">IgG control</text>
<path d="M480.9 358.95 L484 362.05 L480.9 365.15 L477.8 362.05 Z" fill="#000"/>
<text x="503.4" y="364.55" font-size="7.15" text-anchor="end">0/8</text>
</svg></body></html>
